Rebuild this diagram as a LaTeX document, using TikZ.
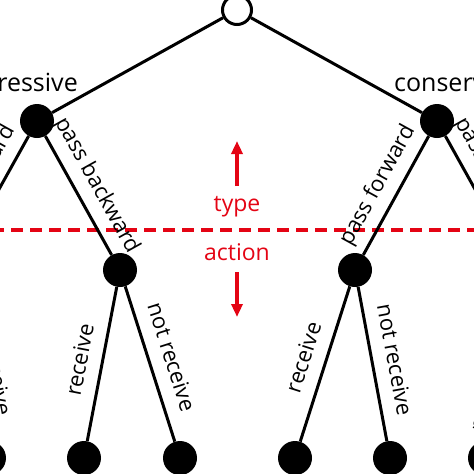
\documentclass[tikz,border=0pt]{standalone}
\usepackage{fontspec}
\setmainfont{Open Sans}
\usetikzlibrary{arrows.meta}
\definecolor{myred}{RGB}{228,4,20}
\begin{document}
\begin{tikzpicture}[x=1pt,y=-1pt,
  dot/.style={circle,fill=black,minimum size=34pt,inner sep=0pt},
  rootnode/.style={circle,draw=black,fill=white,line width=3pt,minimum size=29pt,inner sep=0pt},
  conn/.style={line width=3pt},
  elblbase/.style={sloped,inner sep=3pt,text depth=0pt,font=\fontsize{22}{26}\selectfont},
  elbl/.style={elblbase,above=10.5pt},
  tlbl/.style={inner sep=0pt,font=\fontsize{25}{29}\selectfont},
  redtxt/.style={inner sep=0pt,text=myred,font=\fontsize{23}{27}\selectfont,anchor=base},
  reddash/.style={draw=myred,line width=4pt,dash pattern=on 12pt off 7pt},
  redarrow/.style={draw=myred,line width=3.5pt,-{Triangle[length=13pt,width=11pt]}}
]
\useasboundingbox (0,0) rectangle (474,474);
\clip (0,0) rectangle (474,474);
% red separator
\coordinate (dl) at (-8,230);
\coordinate (dr) at (490,230);
\draw[reddash] (dl) -- (dr);
\node[redtxt] (type) at (237,211) {type};
\node[redtxt] (action) at (237,260) {action};
\coordinate (upS) at (237,186);
\coordinate (upE) at (237,141);
\coordinate (dnS) at (237,272);
\coordinate (dnE) at (237,317);
\draw[redarrow] (upS) -- (upE);
\draw[redarrow] (dnS) -- (dnE);
% tree nodes
\node[rootnode] (r) at (237,10) {};
\node[dot] (A) at (37,121) {};
\node[dot] (B) at (437,121) {};
\node[dot] (E) at (-46,270) {};
\node[dot] (C) at (120,270) {};
\node[dot] (D) at (355,270) {};
\node[dot] (F) at (520,270) {};
\node[dot] (e2) at (-11,458) {};
\node[dot] (c1) at (84,458) {};
\node[dot] (c2) at (180,458) {};
\node[dot] (d1) at (295,458) {};
\node[dot] (d2) at (390,458) {};
\node[dot] (f1) at (485,458) {};
% type labels
\node[tlbl,anchor=base east] (aggL) at (78,91) {aggressive};
\node[tlbl,anchor=base west] (consL) at (394,91) {conservative};
% edges
\draw[conn] (r) -- (A);
\draw[conn] (r) -- (B);
\draw[conn] (A) -- node[elbl]{pass forward} (E);
\draw[conn] (A) -- node[elbl]{pass backward} (C);
\draw[conn] (B) -- node[elbl]{pass forward} (D);
\draw[conn] (B) -- node[elbl]{pass backward} (F);
\draw[conn] (E) -- node[elbl]{not receive} (e2);
\draw[conn] (C) -- node[elbl]{receive} (c1);
\draw[conn] (C) -- node[elbl]{not receive} (c2);
\draw[conn] (D) -- node[elbl]{receive} (d1);
\draw[conn] (D) -- node[elbl]{not receive} (d2);
\draw[conn] (F) -- node[elblbase,above=1pt,pos=0.72]{receive} (f1);
\end{tikzpicture}
\end{document}
